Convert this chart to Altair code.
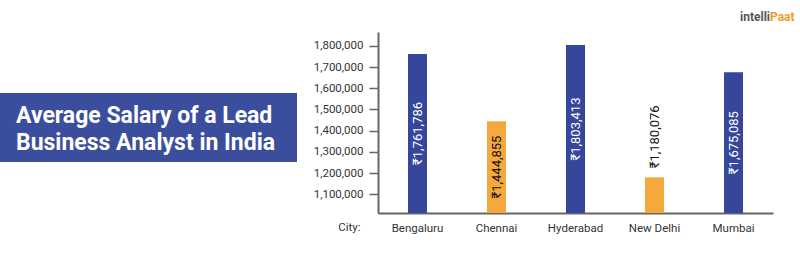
import altair as alt
import pandas as pd

cities = ["Bengaluru", "Chennai", "Hyderabad", "New Delhi", "Mumbai"]
salaries = [1761786, 1444855, 1803413, 1180076, 1675085]
orange_cities = ["Chennai", "New Delhi"]
tick_values = [1100000, 1200000, 1300000, 1400000, 1500000, 1600000, 1700000, 1800000]
title_lines = ["Average Salary of a Lead", "Business Analyst in India"]
axis_min = 1012000
axis_max = 1865000

df = pd.DataFrame({"city": cities, "salary": salaries})

BLUE = "#36479B"
ORANGE = "#F5A83B"

orange_test = "indexof(" + str(orange_cities).replace("'", '"') + ", datum.city) >= 0"

y_scale = alt.Scale(domain=[axis_min, axis_max], zero=False, nice=False)
y_axis = alt.Axis(title=None, values=tick_values, format=",d", grid=False,
                  labelOverlap=False,
                  tickSize=9, tickColor="#666", tickWidth=1.5,
                  domainColor="#666", domainWidth=2, labelPadding=6,
                  labelFontSize=11.5, labelColor="#333", labelFont="Roboto")

base = alt.Chart(df).encode(
    x=alt.X("city:N", sort=cities,
            scale=alt.Scale(paddingInner=0.76, paddingOuter=0.38),
            axis=alt.Axis(title="City:", labelAngle=0, ticks=False, labelPadding=9,
                          labelFontSize=11.5, labelColor="#333", labelFont="Roboto",
                          domainColor="#666", domainWidth=2,
                          titleX=-18, titleY=14, titleAlign="right", titleBaseline="middle",
                          titleFontWeight="normal", titleFontSize=11.5, titleColor="#333",
                          titleFont="Roboto")),
)

bars = base.mark_bar(size=19).encode(
    y=alt.Y("salary:Q", scale=y_scale, axis=y_axis),
    y2=alt.datum(axis_min),
    color=alt.condition(orange_test, alt.value(ORANGE), alt.value(BLUE)),
)

inside = base.transform_filter("datum.salary >= 1300000").transform_calculate(
    mid="(datum.salary + %d) / 2" % axis_min,
    label="'₹' + format(datum.salary, ',d')",
).mark_text(angle=270, align="center", baseline="middle", fontSize=13, font="Roboto").encode(
    y=alt.Y("mid:Q", scale=y_scale, axis=y_axis),
    text="label:N",
    color=alt.condition(orange_test, alt.value("#111"), alt.value("white")),
)

outside = base.transform_filter("datum.salary < 1300000").transform_calculate(
    label="'₹' + format(datum.salary, ',d')",
).mark_text(angle=270, align="left", baseline="middle", dx=9, fontSize=13, font="Roboto",
            color="#111").encode(
    y=alt.Y("salary:Q", scale=y_scale, axis=y_axis),
    text="label:N",
)

deco = alt.Chart(alt.Data(values=[{}]))

title_box = deco.mark_rect(color="#3B4E9D").encode(
    x=alt.value(-378), x2=alt.value(-81), y=alt.value(61), y2=alt.value(130)
)
title_text = deco.mark_text(align="left", baseline="alphabetic", fontSize=23,
                            fontWeight="bold", font="Roboto", color="white",
                            lineHeight=27).encode(
    x=alt.value(-362), y=alt.value(91), text=alt.value(title_lines)
)
logo1 = deco.mark_text(align="right", baseline="middle", fontSize=12, fontWeight="bold",
                       font="Roboto", color="#555").encode(
    x=alt.value(392), y=alt.value(-15), text=alt.value("intelli"))
logo2 = deco.mark_text(align="left", baseline="middle", fontSize=12, fontWeight="bold",
                       font="Roboto", color="#F29B1F").encode(
    x=alt.value(392), y=alt.value(-15), text=alt.value("Paat"))

chart = alt.layer(bars, inside, outside, title_box, title_text, logo1, logo2).properties(
    width=395, height=181,
    autosize=alt.AutoSizeParams(type="none"),
    padding={"left": 378, "top": 32, "right": 27, "bottom": 57},
    background="white",
).configure_view(stroke=None)

chart.save("out.html", embed_options={"renderer": "svg", "actions": False})
